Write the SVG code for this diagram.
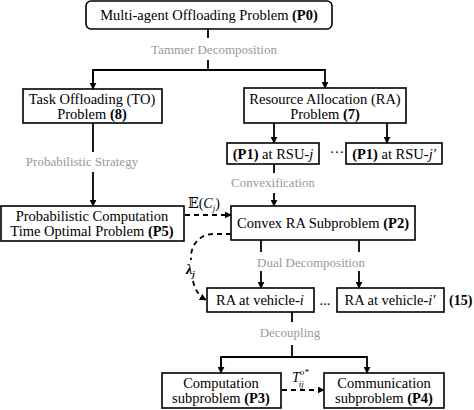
<svg xmlns="http://www.w3.org/2000/svg" width="474" height="410" viewBox="0 0 474 410">
<defs>
<style>
.box{fill:#fff;stroke:#000;stroke-width:1.6}
.ln{fill:none;stroke:#000;stroke-width:1.8}
.dash{fill:none;stroke:#000;stroke-width:1.8;stroke-dasharray:5,4}
.t{font-family:"Liberation Serif","DejaVu Serif",serif;font-size:14.5px;fill:#000;text-anchor:middle}
.g{font-family:"Liberation Serif","DejaVu Serif",serif;font-size:13px;fill:#999;text-anchor:middle}
.b{font-weight:bold}
.m{font-family:"Liberation Serif","DejaVu Serif",serif;font-size:14px;fill:#000}
</style>
<marker id="ah" viewBox="0 0 10 10" refX="9" refY="5" markerWidth="7" markerHeight="7" markerUnits="userSpaceOnUse" orient="auto">
<path d="M0,0 L10,5 L0,10 z" fill="#000"/>
</marker>
</defs>
<rect width="474" height="410" fill="#fff"/>

<g id="connectors">
<line class="ln" x1="208" y1="29" x2="208" y2="38"/>
<text class="g" x="214" y="54">Tammer Decomposition</text>
<polyline class="ln" points="208,60 208,70"/>
<polyline class="ln" points="93,88 93,70 325,70 325,88" marker-end="url(#ah)"/>
<line class="ln" x1="93" y1="70" x2="93" y2="89" marker-end="url(#ah)"/>

<line class="ln" x1="93" y1="123" x2="93" y2="152"/>
<text class="g" x="82" y="166">Probabilistic Strategy</text>
<line class="ln" x1="93" y1="172" x2="93" y2="206" marker-end="url(#ah)"/>

<line class="ln" x1="274" y1="123" x2="274" y2="143" marker-end="url(#ah)"/>
<line class="ln" x1="387" y1="123" x2="387" y2="143" marker-end="url(#ah)"/>

<line class="ln" x1="274" y1="164" x2="274" y2="173"/>
<text class="g" x="273" y="187">Convexification</text>
<line class="ln" x1="274" y1="193" x2="274" y2="206" marker-end="url(#ah)"/>

<line class="dash" x1="185" y1="215" x2="231" y2="215" marker-end="url(#ah)"/>
<text class="m" x="188" y="208">𝔼(<tspan font-style="italic">C</tspan><tspan font-style="italic" font-size="9" dy="3">j</tspan><tspan dy="-3">)</tspan></text>

<line class="ln" x1="261" y1="240" x2="261" y2="252"/>
<line class="ln" x1="359" y1="240" x2="359" y2="252"/>
<text class="g" x="311" y="267">Dual Decomposition</text>
<line class="ln" x1="261" y1="271" x2="261" y2="288" marker-end="url(#ah)"/>
<line class="ln" x1="359" y1="271" x2="359" y2="288" marker-end="url(#ah)"/>

<path class="dash" d="M231,234 L214,234 C197,234 190,248 191,260"/>
<path class="dash" d="M193,281 C195,290 199,296 206,300" marker-end="url(#ah)"/>
<text class="m" x="186" y="274" font-weight="bold" font-style="italic">λ<tspan font-size="9" dy="3">j</tspan></text>

<line class="ln" x1="292" y1="312" x2="292" y2="322"/>
<text class="g" x="290" y="337">Decoupling</text>
<line class="ln" x1="292" y1="345" x2="292" y2="357"/>
<polyline class="ln" points="221,373 221,357 367,357 367,373" marker-end="url(#ah)"/>
<line class="ln" x1="221" y1="357" x2="221" y2="373" marker-end="url(#ah)"/>

<line class="dash" x1="282" y1="390" x2="324" y2="390" marker-end="url(#ah)"/>
<text class="m" x="292" y="382" font-style="italic" font-size="15">T<tspan font-size="9" dy="-7">o*</tspan><tspan font-size="9" dx="-10" dy="12">ij</tspan></text>
</g>

<g id="P0">
<rect class="box" x="86" y="1" width="246" height="28" rx="5"/>
<text class="t" x="209" y="20">Multi-agent Offloading Problem  <tspan class="b">(P0)</tspan></text>
</g>
<g id="TO">
<rect class="box" x="23" y="89" width="139" height="34"/>
<text class="t" x="92" y="104">Task Offloading (TO)</text>
<text class="t" x="92" y="119">Problem  <tspan class="b">(8)</tspan></text>
</g>
<g id="RA">
<rect class="box" x="244" y="88" width="162" height="35"/>
<text class="t" x="325" y="104">Resource Allocation (RA)</text>
<text class="t" x="325" y="119">Problem <tspan class="b">(7)</tspan></text>
</g>
<g id="P1j">
<rect class="box" x="227" y="143" width="92" height="21"/>
<text class="t" x="273" y="159"><tspan class="b">(P1)</tspan> at RSU-<tspan font-style="italic">j</tspan></text>
</g>
<text class="t" x="337" y="157">···</text>
<g id="P1jp">
<rect class="box" x="346" y="143" width="96" height="21"/>
<text class="t" x="394" y="159"><tspan class="b">(P1)</tspan> at RSU-<tspan font-style="italic">j′</tspan></text>
</g>
<g id="P5">
<rect class="box" x="1" y="206" width="183" height="35"/>
<text class="t" x="92" y="221">Probabilistic Computation</text>
<text class="t" x="92" y="236">Time Optimal Problem <tspan class="b">(P5)</tspan></text>
</g>
<g id="P2">
<rect class="box" x="231" y="206" width="184" height="34"/>
<text class="t" x="323" y="228">Convex RA Subproblem <tspan class="b">(P2)</tspan></text>
</g>
<g id="Vi">
<rect class="box" x="207" y="288" width="107" height="24"/>
<text class="t" x="260" y="305">RA at vehicle-<tspan font-style="italic">i</tspan></text>
</g>
<text class="t" x="325" y="305">...</text>
<g id="Vip">
<rect class="box" x="337" y="288" width="107" height="24"/>
<text class="t" x="390" y="305">RA at vehicle-<tspan font-style="italic">i′</tspan></text>
</g>
<text class="t b" x="449" y="305" style="text-anchor:start;font-size:14px">(15)</text>
<g id="P3">
<rect class="box" x="162" y="373" width="119" height="35"/>
<text class="t" x="221" y="388">Computation</text>
<text class="t" x="221" y="403">subproblem <tspan class="b">(P3)</tspan></text>
</g>
<g id="P4">
<rect class="box" x="324" y="373" width="120" height="35"/>
<text class="t" x="384" y="388">Communication</text>
<text class="t" x="384" y="403">subproblem <tspan class="b">(P4)</tspan></text>
</g>
</svg>
